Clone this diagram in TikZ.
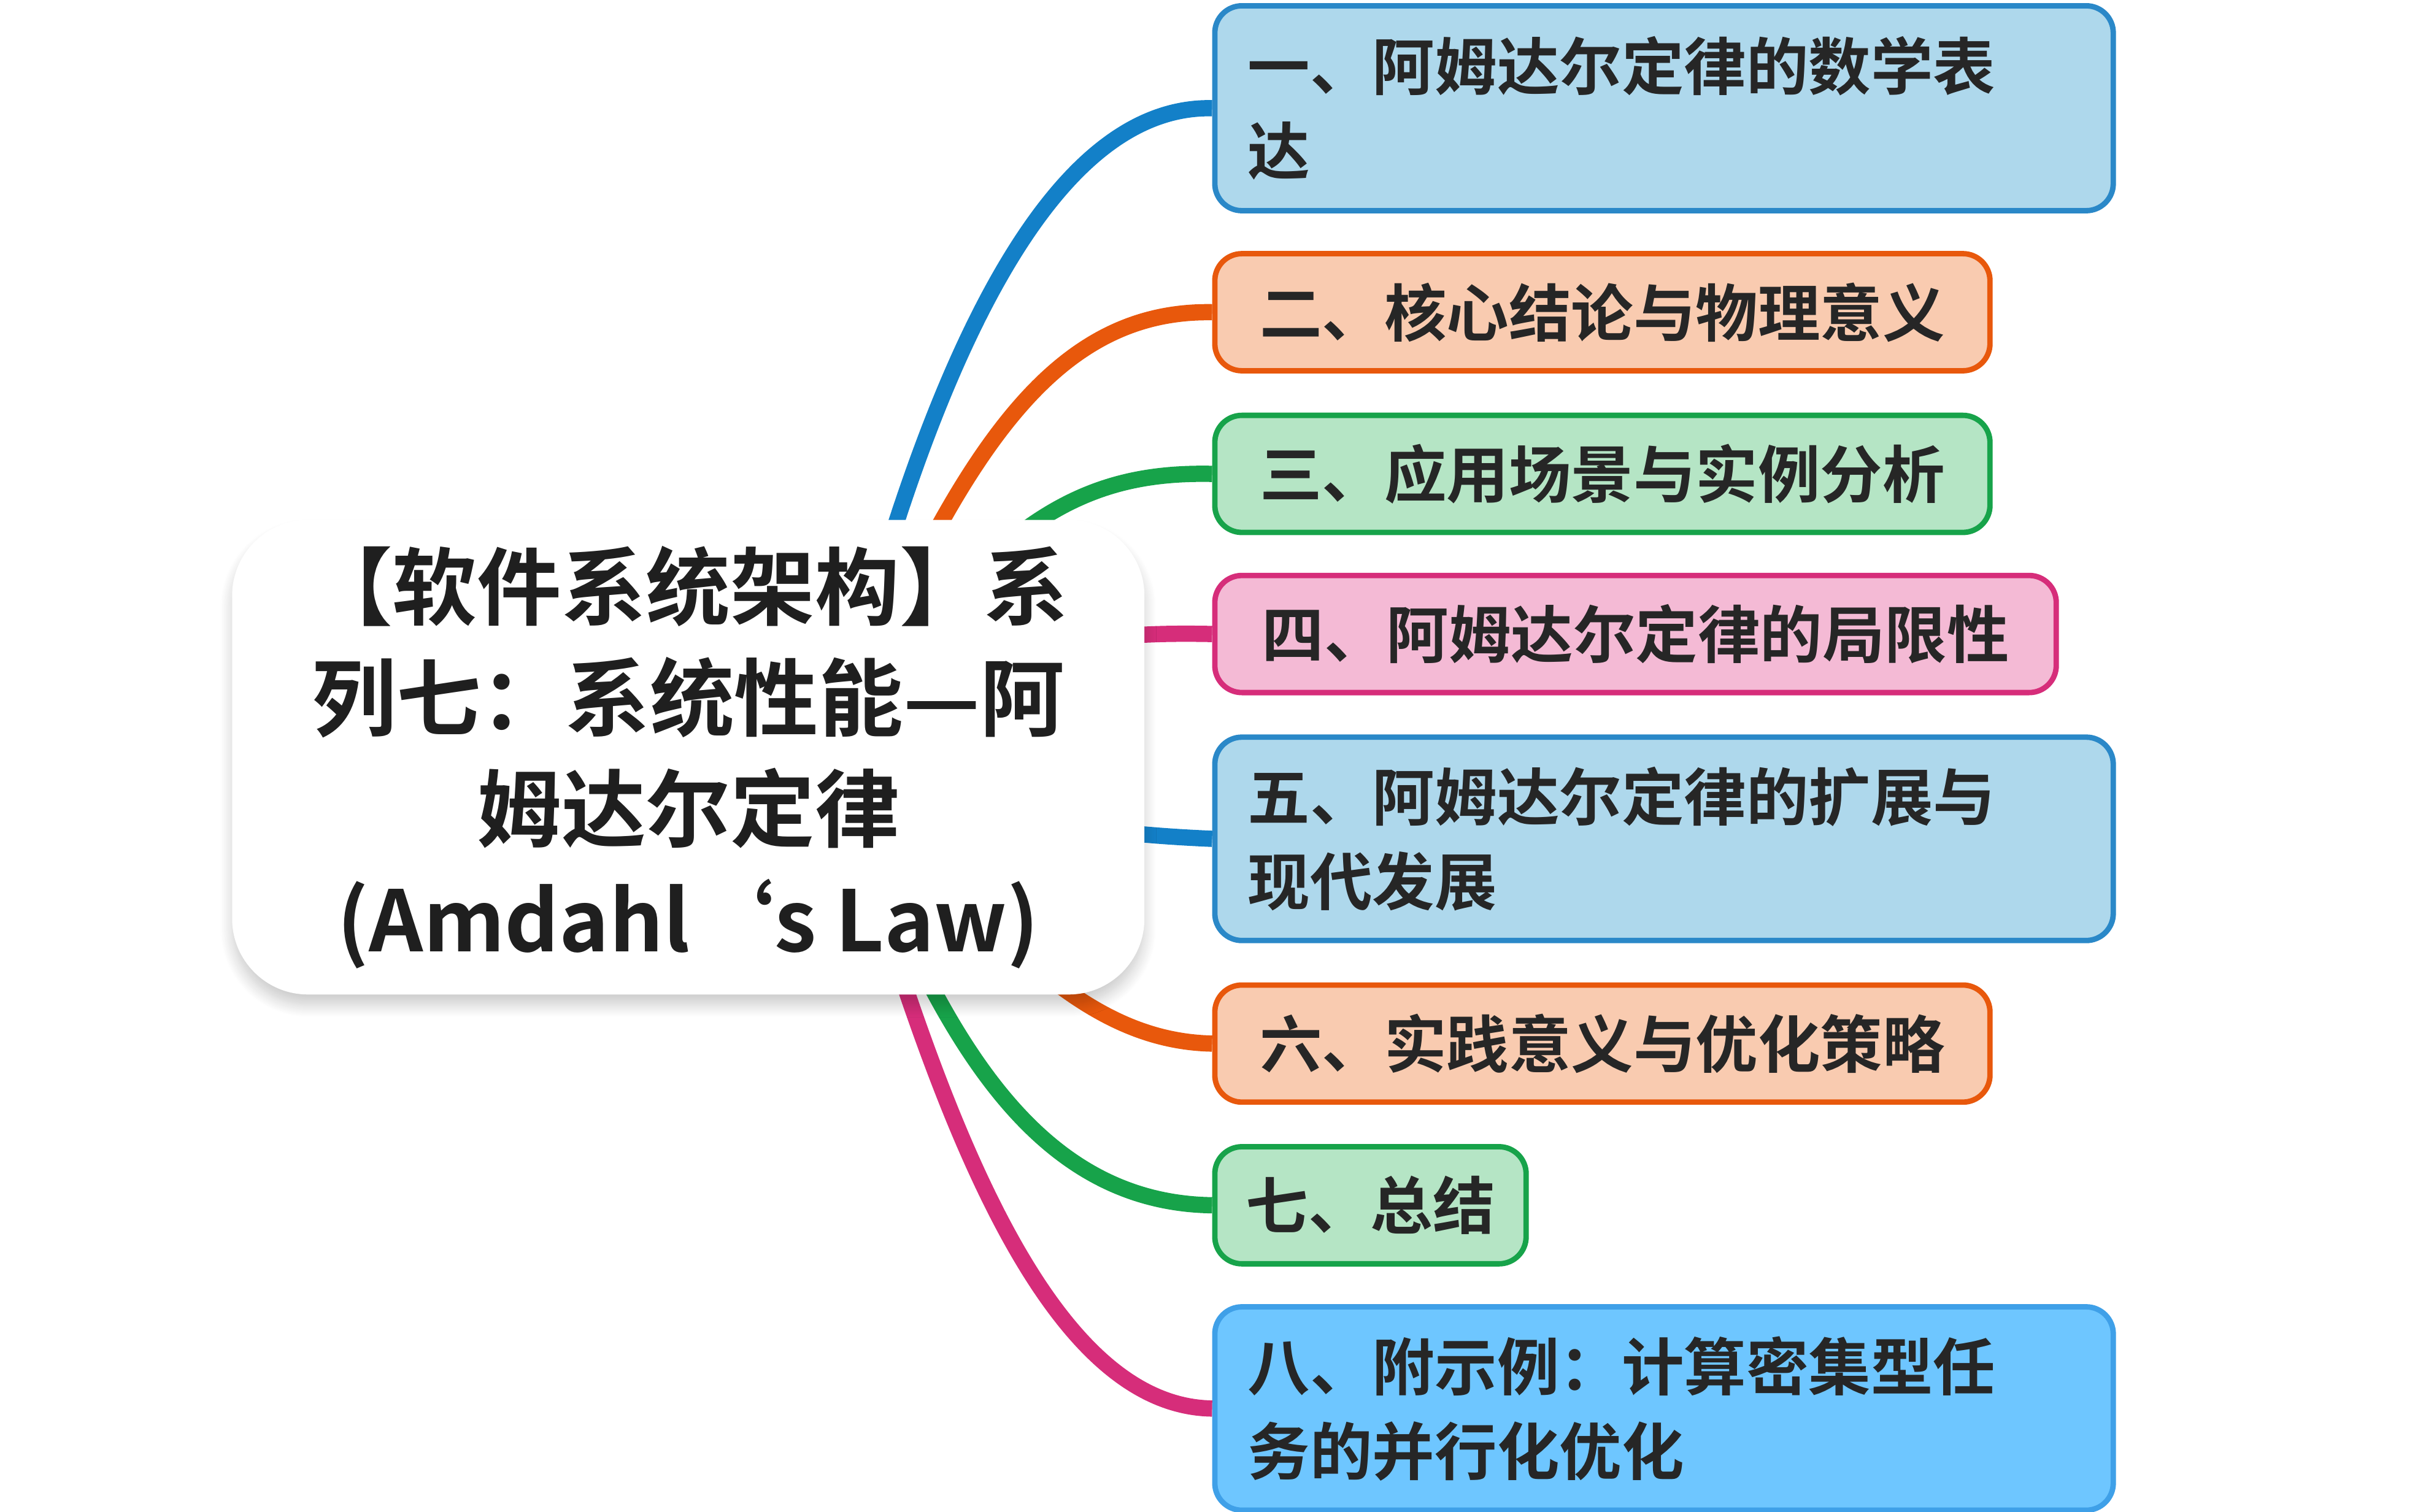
\documentclass[tikz,border=0pt]{standalone}
\usepackage{fontspec}
\setmainfont{Noto Sans CJK SC}[BoldFont={* Bold}]
\usetikzlibrary{shadows.blur}
\definecolor{lblue}{HTML}{AED8EC}\definecolor{dblue}{HTML}{2A88C8}
\definecolor{lpeach}{HTML}{F9CBB0}\definecolor{dorange}{HTML}{E8580C}
\definecolor{lgreen}{HTML}{B5E5C5}\definecolor{dgreen}{HTML}{17A34A}
\definecolor{lpink}{HTML}{F4BAD5}\definecolor{dpink}{HTML}{D62D7A}
\definecolor{sblue}{HTML}{6EC6FF}\definecolor{sbord}{HTML}{3FA0E8}
\definecolor{lineblue}{HTML}{1380C8}
\tikzset{
 topic/.style={draw=#1, line width=1pt, rounded corners=5pt, anchor=north west, align=left,
   font=\fontsize{11.5pt}{15.6pt}\selectfont\bfseries, text=black!85, inner xsep=0.15cm},
 conn/.style={line width=3pt, #1},
}
\begin{document}
\begin{tikzpicture}[x=0.01cm,y=-0.01cm]
\useasboundingbox (0,0) rectangle (1568,982);
\coordinate (c) at (540,490);
% boxes
\node[topic=dblue, fill=lblue, minimum width=5.83cm, minimum height=1.33cm, text width=5.4cm] (b1) at (787,2) {一、阿姆达尔定律的数学表\\达};
\node[topic=dorange, fill=lpeach, minimum width=5.03cm, minimum height=0.76cm] (b2) at (787,163) {二、核心结论与物理意义};
\node[topic=dgreen, fill=lgreen, minimum width=5.03cm, minimum height=0.76cm] (b3) at (787,268) {三、应用场景与实例分析};
\node[topic=dpink, fill=lpink, minimum width=5.46cm, minimum height=0.76cm] (b4) at (787,372) {四、阿姆达尔定律的局限性};
\node[topic=dblue, fill=lblue, minimum width=5.83cm, minimum height=1.32cm, text width=5.4cm] (b5) at (787,477) {五、阿姆达尔定律的扩展与\\现代发展};
\node[topic=dorange, fill=lpeach, minimum width=5.03cm, minimum height=0.76cm] (b6) at (787,638) {六、实践意义与优化策略};
\node[topic=dgreen, fill=lgreen, minimum width=2.02cm, minimum height=0.76cm] (b7) at (787,743) {七、总结};
\node[topic=sbord, fill=sblue, minimum width=5.83cm, minimum height=1.32cm, text width=5.4cm] (b8) at (787,847) {八、附示例：计算密集型任\\务的并行化优化};
% connectors
\draw[conn=lineblue] (c) .. controls (600,240) and (680,68) .. (b1.west);
\draw[conn=dorange] (c) .. controls (620,300) and (680,201) .. (b2.west);
\draw[conn=dgreen] (c) .. controls (640,340) and (700,306) .. (b3.west);
\draw[conn=dpink] (c) .. controls (640,420) and (700,410) .. (b4.west);
\draw[conn=lineblue] (c) .. controls (640,530) and (700,541) .. (b5.west);
\draw[conn=dorange] (c) .. controls (640,600) and (700,676) .. (b6.west);
\draw[conn=dgreen] (c) .. controls (600,650) and (660,781) .. (b7.west);
\draw[conn=dpink] (c) .. controls (590,650) and (660,913) .. (b8.west);
% central
\node[fill=white, rounded corners=14pt, minimum width=5.92cm, minimum height=3.08cm, anchor=north west,
  blur shadow={shadow blur steps=10, shadow xshift=0pt, shadow yshift=-2pt, shadow opacity=20},
  align=center, font=\fontsize{15.6pt}{20.5pt}\selectfont\bfseries, text=black!88] (root) at (150,337)
  {【软件系统架构】系\\列七：系统性能—阿\\姆达尔定律\\(Amdahl‘s Law)};
\end{tikzpicture}
\end{document}
